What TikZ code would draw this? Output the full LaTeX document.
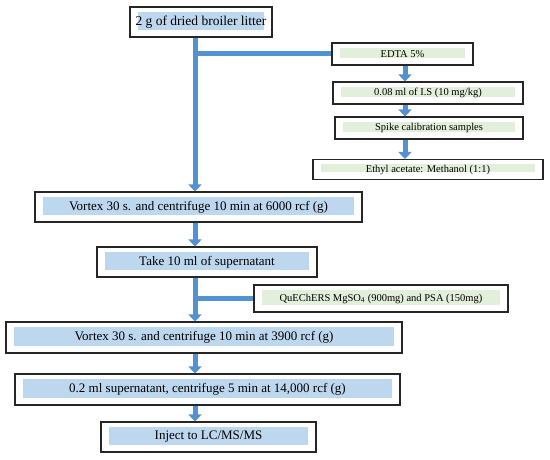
\documentclass[tikz,border=0pt]{standalone}
\usepackage{fontspec}
\setmainfont{Liberation Serif}
\usepackage{tikz}
\usetikzlibrary{arrows.meta}
\usetikzlibrary{calc}
\definecolor{BandBlue}{RGB}{189,215,238}
\definecolor{BandGreen}{RGB}{226,239,218}
\definecolor{ArrowBlue}{RGB}{84,145,208}
\definecolor{BoxLine}{RGB}{38,38,38}
\tikzset{StepBox/.style={rectangle, draw=BoxLine, line width=1.1pt, fill=white, inner sep=0pt,
  path picture={\fill[#1] ([xshift=8pt,yshift=7pt]path picture bounding box.south west) rectangle ([xshift=-8pt,yshift=-5pt]path picture bounding box.north east);}},
  StepBox/.default=BandBlue}
\tikzstyle{MainStep}=[StepBox, font=\fontsize{13}{15}\selectfont]
\tikzstyle{SideStep}=[StepBox=BandGreen, font=\fontsize{10.5}{12}\selectfont]
\tikzstyle{FlowEdge}=[draw=ArrowBlue, line width=5pt, -{Triangle[width=13pt,length=7pt]}]
\tikzstyle{JoinEdge}=[draw=ArrowBlue, line width=5pt]

\begin{document}
\begin{tikzpicture}[x=1pt, y=-1pt]
\useasboundingbox (0,0) rectangle (550,460);
\coordinate (ColA) at (195,0);
\coordinate (ColB) at (405,0);

\node[MainStep, minimum width=142pt, minimum height=30pt, font=\fontsize{13.5}{15}\selectfont](Litter) at (201,22) {2 g of dried broiler litter};
\node[SideStep, minimum width=141pt, minimum height=22pt](EDTA) at (402.5,54) {EDTA 5\%};
\node[SideStep, minimum width=190pt, minimum height=22pt](IS) at (428,93) {0.08 ml of I.S (10 mg/kg)};
\node[SideStep, minimum width=188pt, minimum height=22pt](Spike) at (429,128) {Spike calibration samples};
\node[SideStep, minimum width=230pt, minimum height=20pt](Solvent) at (428,169.5) {Ethyl acetate: Methanol (1:1)};
\node[MainStep, minimum width=327pt, minimum height=30pt](VortexA) at (198.5,207) {Vortex 30 s. and centrifuge 10 min at 6000 rcf (g)};
\node[MainStep, minimum width=220pt, minimum height=30pt](Take) at (207,262) {Take 10 ml of supernatant};
\node[SideStep, minimum width=254pt, minimum height=27pt](Salts) at (381,298.5) {QuEChERS MgSO\textsubscript{4} (900mg) and PSA (150mg)};
\node[MainStep, minimum width=396pt, minimum height=31pt](VortexB) at (204,337.5) {Vortex 30 s. and centrifuge 10 min at 3900 rcf (g)};
\node[MainStep, minimum width=385pt, minimum height=31pt](Spin) at (207.5,389.5) {0.2 ml supernatant, centrifuge 5 min at 14,000 rcf (g)};
\node[MainStep, minimum width=215pt, minimum height=30pt](Inject) at (208.5,437) {Inject to LC/MS/MS};

\draw[FlowEdge](Litter.south -| ColA) -- (VortexA.north -| ColA);
\draw[JoinEdge](EDTA.west -| ColA) -- (EDTA.west);
\draw[FlowEdge](EDTA.south -| ColB) -- (IS.north -| ColB);
\draw[FlowEdge](IS.south -| ColB) -- (Spike.north -| ColB);
\draw[FlowEdge](Spike.south -| ColB) -- (Solvent.north -| ColB);
\draw[FlowEdge](VortexA.south -| ColA) -- (Take.north -| ColA);
\draw[FlowEdge](Take.south -| ColA) -- (VortexB.north -| ColA);
\draw[JoinEdge](Salts.west -| ColA) -- (Salts.west);
\draw[FlowEdge](VortexB.south -| ColA) -- (Spin.north -| ColA);
\draw[FlowEdge](Spin.south -| ColA) -- (Inject.north -| ColA);

\end{tikzpicture}
\end{document}
